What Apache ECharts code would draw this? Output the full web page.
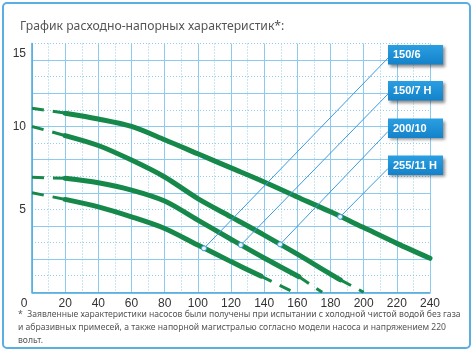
<!DOCTYPE html>
<html>
<head>
<meta charset="utf-8">
<script src="https://cdn.jsdelivr.net/npm/echarts@6/dist/echarts.min.js"></script>
<style>
  html, body { margin: 0; padding: 0; background: #fff; }
  #chart { width: 474px; height: 355px; }
</style>
</head>
<body>
<div id="chart"></div>
<script>
// flow (x) and head (y)
const headQ = [0, 20]

const q255 = [20, 40, 60, 80, 100, 120, 140, 160, 180, 200, 220, 240]
const h255 = [10.8, 10.45, 10.0, 9.2, 8.35, 7.5, 6.65, 5.75, 4.85, 3.9, 2.95, 2.05]
const head255 = [11.1, 10.8]

const q200 = [20, 40, 60, 80, 100, 120, 140, 160, 180, 186]
const h200 = [9.45, 8.85, 7.97, 6.95, 5.65, 4.55, 3.45, 2.3, 1.1, 0.75]
const head200 = [10.0, 9.45]
const tailQ200 = [186, 200]
const tailH200 = [0.75, 0]

const q1507 = [20, 40, 60, 80, 100, 120, 140, 161]
const h1507 = [6.87, 6.6, 6.16, 5.5, 4.35, 3.2, 2.07, 0.94]
const head1507 = [6.93, 6.87]
const tailQ1507 = [161, 175]
const tailH1507 = [0.94, 0]

const q1506 = [20, 40, 60, 80, 100, 120, 138]
const h1506 = [5.6, 5.15, 4.55, 3.85, 2.85, 1.85, 0.98]
const head1506 = [6.0, 5.6]
const tailQ1506 = [138, 158]
const tailH1506 = [0.98, 0]

// model labels and the point on each curve their leader line starts from
const models = ['150/6', '150/7 H', '200/10', '255/11 H']
const tapQ = [103.7, 125.9, 149.6, 185.8]
const tapH = [2.65, 2.85, 2.89, 4.55]

const xTicks = [0, 20, 40, 60, 80, 100, 120, 140, 160, 180, 200, 220, 240]
const yTicks = [5, 10, 15]

const green = '#16894a'
const blue = '#3b9ade'
const boxTop = [45, 81, 118.5, 155.5]
const boxLeft = 388

const zip = (xs, ys) => xs.map((x, i) => [x, ys[i]])

function solid(name, xs, ys, tapIdx) {
  return {
    name: name,
    type: 'line',
    data: zip(xs, ys),
    smooth: 0.3,
    symbol: 'none',
    lineStyle: { color: green, width: 5, cap: 'round' },
    z: 3,
    markLine: {
      silent: true,
      symbol: ['none', 'none'],
      animation: false,
      label: { show: false },
      lineStyle: { color: blue, width: 1, type: 'solid' },
      data: [[
        { coord: [tapQ[tapIdx], tapH[tapIdx]] },
        { x: boxLeft, y: boxTop[tapIdx] + 13 }
      ]]
    },
    markPoint: {
      silent: true,
      symbol: 'circle',
      symbolSize: 5,
      animation: false,
      label: { show: false },
      itemStyle: { color: '#eaf6ff', borderColor: blue, borderWidth: 1 },
      data: [{ coord: [tapQ[tapIdx], tapH[tapIdx]] }]
    }
  }
}

function dashed(xs, ys) {
  return {
    type: 'line',
    data: zip(xs, ys),
    symbol: 'none',
    lineStyle: { color: green, width: 3, type: [12, 9] },
    z: 3
  }
}

const chart = echarts.init(document.getElementById('chart'))

const noteStyle = { fill: '#555', fontSize: 8.6, fontFamily: 'Noto Sans' }

const graphics = [
  {
    type: 'rect',
    shape: { x: 3, y: 3, width: 467, height: 345, r: 4 },
    style: { fill: 'none', stroke: '#5aaee2', lineWidth: 2 },
    silent: true
  },
  {
    type: 'text', x: 18, y: 310,
    style: Object.assign({ text: '*  Заявленные характеристики насосов были получены при испытании с холодной чистой водой без газа' }, noteStyle)
  },
  {
    type: 'text', x: 18, y: 323,
    style: Object.assign({ text: 'и абразивных примесей, а также напорной магистралью согласно модели насоса и напряжением 220' }, noteStyle)
  },
  {
    type: 'text', x: 18, y: 336,
    style: Object.assign({ text: 'вольт.' }, noteStyle)
  }
]

models.forEach((m, i) => {
  graphics.push({
    type: 'rect',
    z: 10,
    shape: { x: boxLeft, y: boxTop[i], width: 55, height: 19.5 },
    style: {
      fill: new echarts.graphic.LinearGradient(0, 0, 0, 1, [
        { offset: 0, color: '#2b9fe2' },
        { offset: 1, color: '#1482c9' }
      ]),
      shadowBlur: 3,
      shadowOffsetX: 2,
      shadowOffsetY: 2,
      shadowColor: 'rgba(0,0,0,0.45)'
    }
  })
  graphics.push({
    type: 'text',
    z: 11,
    x: boxLeft + 5,
    y: boxTop[i] + 10,
    style: {
      text: m,
      fill: '#fff',
      fontSize: 11,
      fontWeight: 'bold',
      fontFamily: 'Liberation Sans',
      verticalAlign: 'middle'
    }
  })
})

const option = {
  animation: false,
  title: {
    text: 'График расходно-напорных характеристик*:',
    left: 15,
    top: 16,
    textStyle: { color: '#555', fontSize: 12.2, fontWeight: 'normal', fontFamily: 'Noto Sans' }
  },
  grid: { left: 32, right: 44, top: 43.5, bottom: 62.7 },
  xAxis: {
    type: 'value',
    min: 0,
    max: 240,
    interval: 20,
    axisLine: { show: true, lineStyle: { color: '#4aa8dd', width: 1.5 } },
    axisTick: { show: false },
    axisLabel: {
      color: '#333',
      fontSize: 12,
      fontFamily: 'Liberation Sans',
      margin: 5,
      formatter: v => (xTicks.indexOf(v) === 0 ? '{z|0}' : String(v)),
      rich: { z: { padding: [0, 16, 0, 0], fontSize: 12, color: '#333' } }
    },
    splitLine: { show: true, lineStyle: { color: '#8ccbee', width: 1 } },
    minorTick: { show: false, splitNumber: 2 },
    minorSplitLine: { show: true, lineStyle: { color: '#93cdee', width: 1, type: [1, 2] } }
  },
  yAxis: [
    {
      // dotted lines every 1 m
      type: 'value', position: 'left', min: 0, max: 15, interval: 1,
      axisLine: { show: false }, axisTick: { show: false }, axisLabel: { show: false },
      splitLine: { show: true, lineStyle: { color: '#93cdee', width: 1, type: [1, 2] } }
    },
    {
      // solid lines every 2 m
      type: 'value', position: 'left', min: 0, max: 15, interval: 2,
      axisLine: { show: true, lineStyle: { color: '#4aa8dd', width: 1.5 } },
      axisTick: { show: false }, axisLabel: { show: false },
      splitLine: { show: true, showMaxLine: false, lineStyle: { color: '#8ccbee', width: 1 } }
    },
    {
      type: 'value', position: 'left', offset: 0, min: 0, max: 15, interval: 5,
      axisLine: { show: false }, axisTick: { show: false }, splitLine: { show: false },
      axisLabel: {
        color: '#333',
        fontSize: 12,
        fontFamily: 'Liberation Sans',
        margin: 6,
        formatter: v => (yTicks.indexOf(v) < 0 ? '' : (v === 15 ? '{t|15}' : String(v))),
        rich: { t: { padding: [20, 0, 0, 0], fontSize: 12, color: '#333' } }
      }
    }
  ],
  graphic: graphics,
  series: [
    solid('255/11 H', q255, h255, 3),
    dashed(headQ, head255),
    solid('200/10', q200, h200, 2),
    dashed(headQ, head200),
    dashed(tailQ200, tailH200),
    solid('150/7 H', q1507, h1507, 1),
    dashed(headQ, head1507),
    dashed(tailQ1507, tailH1507),
    solid('150/6', q1506, h1506, 0),
    dashed(headQ, head1506),
    dashed(tailQ1506, tailH1506)
  ]
}

chart.setOption(option)
</script>
</body>
</html>
